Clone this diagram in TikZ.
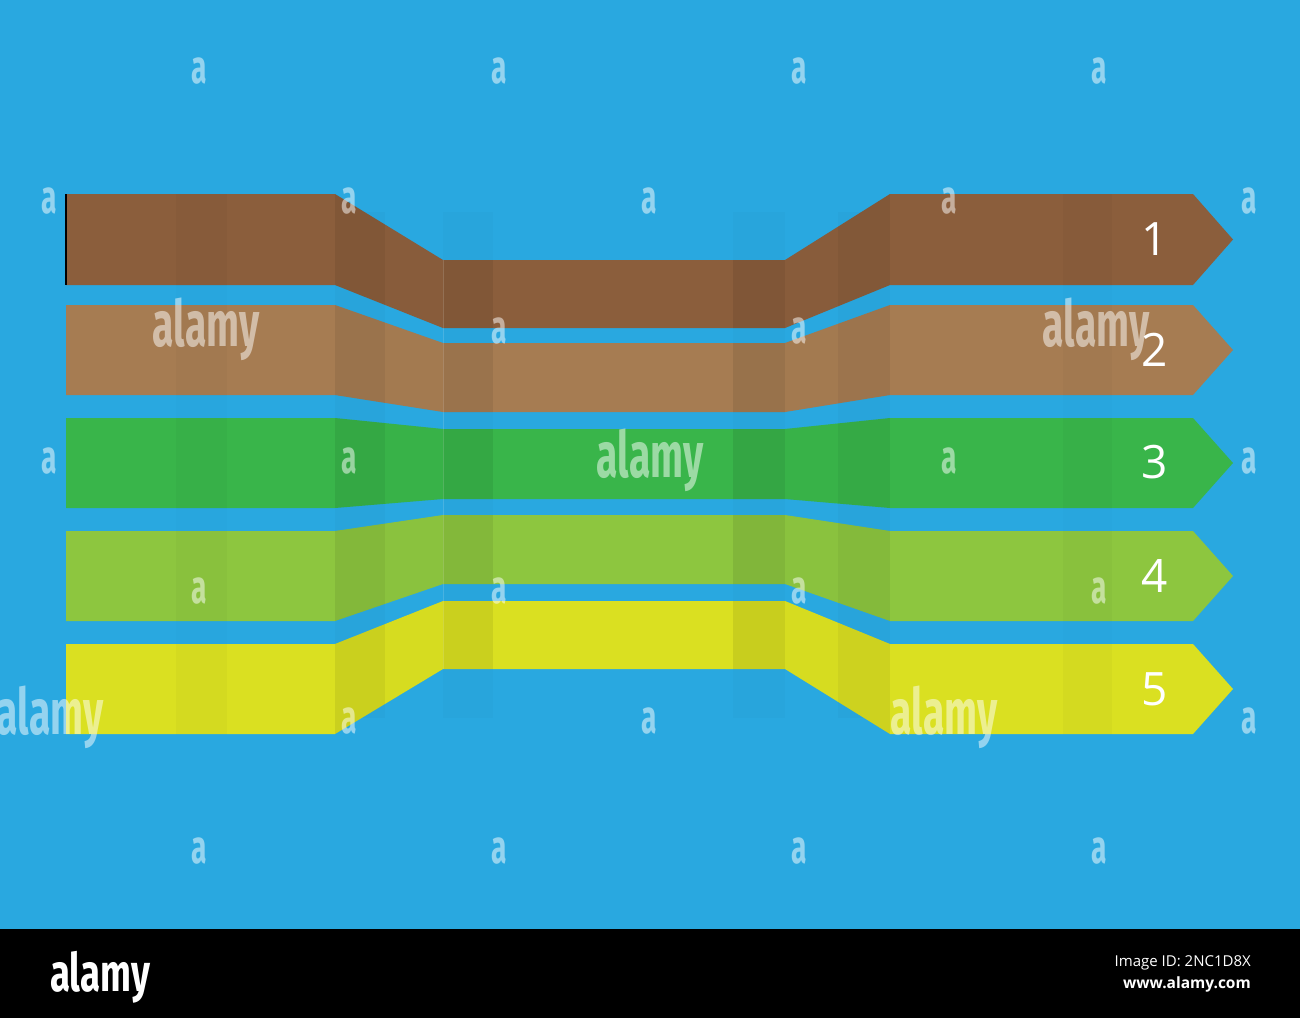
\documentclass[tikz,border=0pt]{standalone}
\usepackage{fontspec}
\usepackage{graphicx}
\setmainfont{Open Sans}
\newfontfamily\wmfont{Fira Sans}
\definecolor{bgblue}{RGB}{41,168,224}
\definecolor{bandA}{RGB}{139,94,60}
\definecolor{bandB}{RGB}{166,124,82}
\definecolor{bandC}{RGB}{57,181,74}
\definecolor{bandD}{RGB}{141,198,63}
\definecolor{bandE}{RGB}{218,224,33}
% outer top, outer bottom, middle top, middle bottom
\newcommand\bandpoly[4]{(66,#1) -- (335,#1) -- (443,#3) -- (785,#3) -- (890,#1) -- (1193,#1)
    -- (1233,{(#1+#2)/2}) -- (1193,#2) -- (890,#2) -- (785,#4) -- (443,#4)
    -- (335,#2) -- (66,#2) -- cycle }
\tikzset{
  numtext/.style={text=white, inner sep=0pt, font=\fontsize{46}{50}\selectfont},
  wmsmall/.style={text=white, text opacity=0.5, inner sep=0pt, anchor=base,
    font=\wmfont\bfseries\fontsize{47}{50}\selectfont},
  wmbig/.style={text=white, text opacity=0.5, inner sep=0pt, anchor=base,
    font=\wmfont\bfseries\fontsize{64}{70}\selectfont},
  shade/.style={fill=black, opacity=#1},
}
\begin{document}
\begin{tikzpicture}[x=1pt,y=-1pt]
\useasboundingbox (0,0) rectangle (1300,1018);
\fill[bgblue] (0,0) rectangle (1300,929);
\fill[black] (0,929) rectangle (1300,1018);

% faint fold shading over the background
\fill[shade=0.008] (176,194) rectangle (227,734);
\fill[shade=0.02] (335,212) rectangle (385,718);
\fill[shade=0.015] (443,212) rectangle (493,718);
\fill[shade=0.015] (733,212) rectangle (785,718);
\fill[shade=0.02] (838,212) rectangle (890,718);
\fill[shade=0.008] (1063,194) rectangle (1112,734);

% bands
\fill[bandA] \bandpoly{194}{285}{260}{328};
\fill[bandB] \bandpoly{305}{395}{343}{412};
\fill[bandC] \bandpoly{418}{508}{429}{499};
\fill[bandD] \bandpoly{531}{621}{515}{584};
\fill[bandE] \bandpoly{644}{734}{601}{669};

% fold shading on the bands
\begin{scope}
\clip \bandpoly{194}{285}{260}{328} \bandpoly{305}{395}{343}{412}
  \bandpoly{418}{508}{429}{499} \bandpoly{531}{621}{515}{584}
  \bandpoly{644}{734}{601}{669};
\fill[shade=0.025] (176,150) rectangle (227,760);
\fill[shade=0.07] (335,150) rectangle (385,760);
\fill[shade=0.015] (385,150) rectangle (443,760);
\fill[shade=0.07] (443,150) rectangle (493,760);
\fill[shade=0.08] (733,150) rectangle (785,760);
\fill[shade=0.015] (785,150) rectangle (838,760);
\fill[shade=0.06] (838,150) rectangle (890,760);
\fill[shade=0.025] (1063,150) rectangle (1112,760);
\end{scope}

% thin edges
\draw[black, line width=1.5pt] (66,194) -- (66,285);
\draw[white, opacity=0.15, line width=0.8pt] (443,260) -- (443,669);

% numbers
\node[numtext] (n1) at (1155,239) {1};
\node[numtext] (n2) at (1155,350) {2};
\node[numtext] (n3) at (1155,462) {3};
\node[numtext] (n4) at (1155,576) {4};
\node[numtext] (n5) at (1155,689) {5};

% watermarks
\foreach \px/\py [count=\i] in {199/83,499/83,799/83,1099/83,
  49/213,349/213,649/213,949/213,1249/213,
  499/343,799/343,
  49/473,349/473,949/473,1249/473,
  199/603,499/603,799/603,1099/603,
  349/733,649/733,1249/733,
  199/863,499/863,799/863,1099/863}
  \node[wmsmall] (wa\i) at (\px,\py) {\scalebox{0.6}[1]{a}};
\node[wmbig] (wb1) at (206,346) {\scalebox{0.61}[1]{alamy}};
\node[wmbig] (wb2) at (1096,346) {\scalebox{0.61}[1]{alamy}};
\node[wmbig] (wb3) at (650,477) {\scalebox{0.61}[1]{alamy}};
\node[wmbig] (wb4) at (50,734) {\scalebox{0.61}[1]{alamy}};
\node[wmbig] (wb5) at (944,734) {\scalebox{0.61}[1]{alamy}};

% footer
\node[text=white, inner sep=0pt, anchor=base west,
  font=\wmfont\bfseries\fontsize{53}{56}\selectfont] (logo) at (50,991) {\scalebox{0.69}[1]{alamy}};
\node[text=white, inner sep=0pt, anchor=base east,
  font=\fontsize{15}{18}\selectfont] (imgid) at (1251,966) {Image ID: 2NC1D8X};
\node[text=white, inner sep=0pt, anchor=base east,
  font=\bfseries\fontsize{15.5}{18}\selectfont] (site) at (1251,988) {www.alamy.com};
\end{tikzpicture}
\end{document}
